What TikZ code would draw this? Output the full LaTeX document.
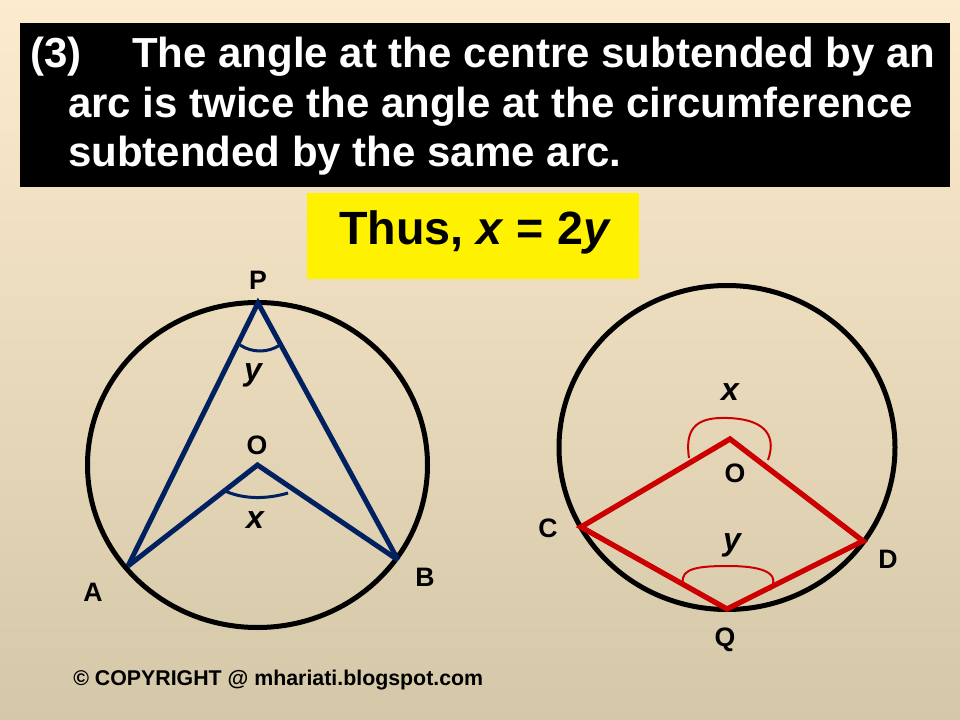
\documentclass[tikz,border=0pt]{standalone}
\usepackage{fontspec}
\setmainfont{Liberation Sans}

\definecolor{bgtop}{RGB}{253,235,205}
\definecolor{bgmid}{RGB}{243,236,214}
\definecolor{bgbot}{RGB}{212,200,168}
\definecolor{chordblue}{RGB}{0,32,96}
\definecolor{chordred}{RGB}{204,0,0}

\begin{document}
\begin{tikzpicture}[x = 0.75pt, y = -0.75pt, font = \bfseries\fontsize{20}{24}\selectfont,
	rim/.style = {line width = 3.75pt},
	header/.style = {anchor = base west, inner sep = 0, white, font = \bfseries\fontsize{31.5}{37.5}\selectfont},
	angletext/.style = {font = \bfseries\itshape\fontsize{24}{28}\selectfont}]

	% Background
	
		\fill [top color = bgtop, middle color = bgmid, bottom color = bgbot] (0, 0) rectangle (960, 720);
		\useasboundingbox (0, 0) rectangle (960, 720);
	
	% Statement
	
		\fill (20, 23) rectangle (950, 187);
		
		\node (num) [header] at (30, 68) {(3)};
		\node (line1) [header] at (132, 68) {The angle at the centre subtended by an};
		\node (line2) [header] at (68, 118) {arc is twice the angle at the circumference};
		\node (line3) [header] at (68, 167) {subtended by the same arc.};
		
		\node (thusbox) [fill = yellow, minimum width = 249pt, minimum height = 64.5pt] at (473, 236) {};
		\node (thus) [anchor = base, inner sep = 0, font = \bfseries\fontsize{35}{40}\selectfont] at (475, 245) {Thus, \textit{x} = 2\textit{y}};
	
	% Left circle
	
		\coordinate (O1) at (257.5, 465);
		\coordinate (P) at (258, 303);
		\coordinate (A) at (128, 566);
		\coordinate (B) at (398, 560);
		
		\draw [rim] (O1) ellipse [x radius = 170, y radius = 162.5];
		
		\begin{scope}[chordblue, line width = 3.75pt, line join = miter]
		
			\draw (A) -- (P) -- (B);
			\draw (A) -- (O1) -- (B);
		
		\end{scope}
		
		% Angles
		
		\begin{scope}[chordblue, line width = 2.25pt]
		
			\draw (240, 345) .. controls (252, 353) and (268, 353) .. (280, 345);
			\draw (223, 490) .. controls (243, 500) and (268, 499) .. (288, 493);
		
		\end{scope}
		
		\node (labP) at (258, 280) {P};
		\node (laby1) [angletext] at (253, 375) {y};
		\node (labO1) at (257, 445) {O};
		\node (labx1) [angletext] at (255, 520) {x};
		\node (labA) at (93, 592) {A};
		\node (labB) at (425, 577) {B};
	
	% Right circle
	
		\coordinate (O2) at (727, 447.5);
		\coordinate (apex) at (730, 439);
		\coordinate (C) at (581, 527);
		\coordinate (Q) at (727, 609);
		\coordinate (D) at (863, 541);
		
		\draw [rim] (O2) ellipse [x radius = 168, y radius = 162];
		
		\draw [chordred, line width = 4pt, line join = miter] (apex) -- (C) -- (Q) -- (D) -- cycle;
		
		% Angles
		
		\begin{scope}[chordred, line width = 1.5pt]
		
			\draw (689, 458) .. controls (684, 425) and (700, 417) .. (728, 418) .. controls (760, 419) and (778, 432) .. (768, 460);
			\draw (683, 583) .. controls (680, 568) and (700, 566) .. (728, 566) .. controls (760, 566) and (782, 572) .. (770, 590);
		
		\end{scope}
		
		\node (labx2) [angletext] at (730, 392) {x};
		\node (labO2) at (735, 473) {O};
		\node (laby2) [angletext] at (732, 545) {y};
		\node (labC) at (548, 528) {C};
		\node (labD) at (888, 559) {D};
		\node (labQ) at (725, 640) {Q};
	
	% Copyright
	
		\node (copyright) [anchor = base west, inner sep = 0, font = \bfseries\fontsize{16}{19}\selectfont] at (73, 685) {© COPYRIGHT @ mhariati.blogspot.com};

\end{tikzpicture}
\end{document}
